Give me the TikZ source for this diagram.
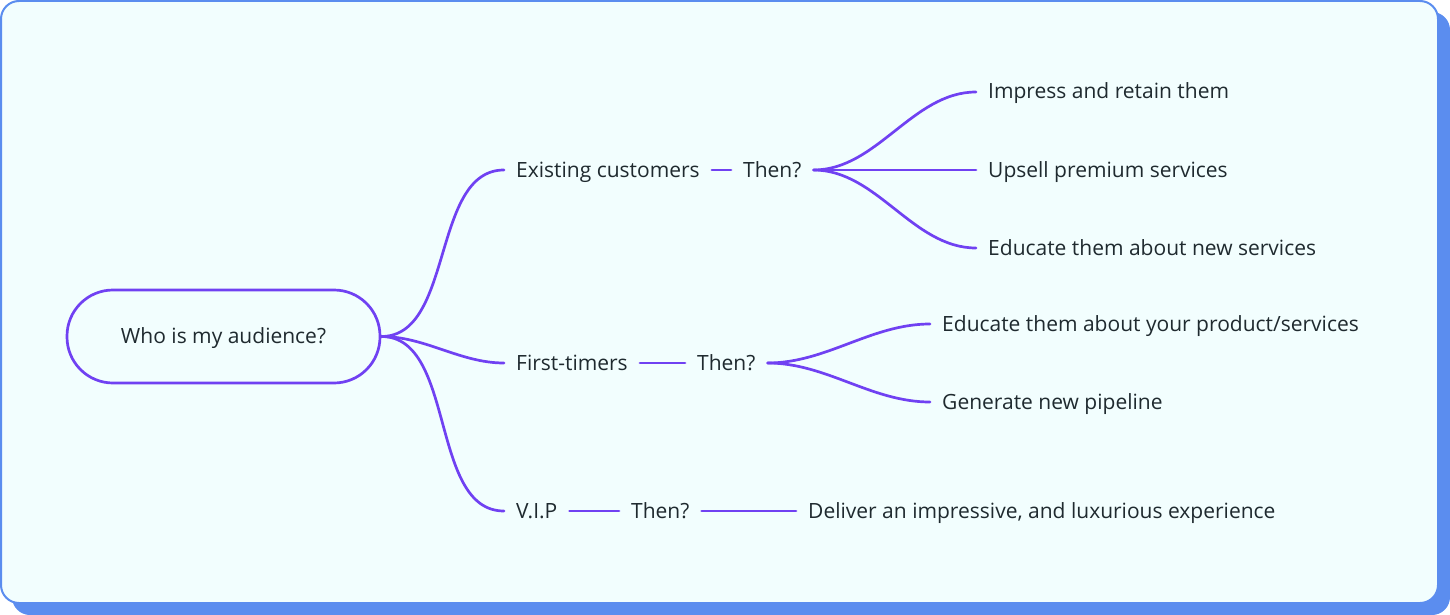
\documentclass[tikz,border=0pt]{standalone}
\usepackage{fontspec}
\setmainfont{Open Sans}
\usepackage{xcolor}
\usetikzlibrary{positioning,calc}
\definecolor{cardblue}{HTML}{5B8DEF}
\definecolor{cardbg}{HTML}{F2FEFE}
\definecolor{mapline}{HTML}{7041F2}
\definecolor{maptext}{HTML}{1F2A2F}

\begin{document}
\begin{tikzpicture}[x=1pt, y=1pt,
    every node/.style={font=\fontsize{21}{25}\selectfont, text=maptext,
                       text height=18pt, text depth=4pt},
    topic/.style={anchor=west, inner xsep=12pt, inner ysep=0pt},
    link/.style={draw=mapline, line width=2.7pt, line cap=round},
    branch/.style={link, out=0, in=180, looseness=0.9}]
  \useasboundingbox (0,0) rectangle (1450,-615);

  % card with shadow
  \fill[cardblue, rounded corners=18pt] (12,-12) rectangle (1450,-615);
  \draw[cardblue, fill=cardbg, line width=2pt, rounded corners=18pt]
      (1,-1) rectangle (1438,-603);

  \node[draw=mapline, line width=2.7pt, rounded corners=46pt,
        minimum width=313pt, minimum height=93pt] (root)
      at (223.5,-336.5) {Who is my audience?};

  \node[topic] (exist) at (504,-170) {Existing customers};
  \node[topic] (then1) at (731,-170) {Then?};
  \node[topic] (first) at (504,-363) {First-timers};
  \node[topic] (then2) at (685,-363) {Then?};
  \node[topic] (vip)   at (504,-511) {V.I.P};
  \node[topic] (then3) at (619,-511) {Then?};

  \node[topic] (impress) at (976,-92)  {Impress and retain them};
  \node[topic] (upsell)  at (976,-170) {Upsell premium services};
  \node[topic] (edunew)  at (976,-248) {Educate them about new services};
  \node[topic] (eduprod) at (930,-324) {Educate them about your product/services};
  \node[topic] (pipe)    at (930,-402) {Generate new pipeline};
  \node[topic] (deliver) at (796,-511) {Deliver an impressive, and luxurious experience};

  \draw[branch] (root.east) to (exist.west);
  \draw[branch] (root.east) to (first.west);
  \draw[branch] (root.east) to (vip.west);

  \draw[link] (exist.east) -- (then1.west);
  \draw[link] (first.east) -- (then2.west);
  \draw[link] (vip.east) -- (then3.west);

  \draw[branch] (then1.east) to (impress.west);
  \draw[link] (then1.east) -- (upsell.west);
  \draw[branch] (then1.east) to (edunew.west);
  \draw[branch] (then2.east) to (eduprod.west);
  \draw[branch] (then2.east) to (pipe.west);
  \draw[link] (then3.east) -- (deliver.west);
\end{tikzpicture}
\end{document}
